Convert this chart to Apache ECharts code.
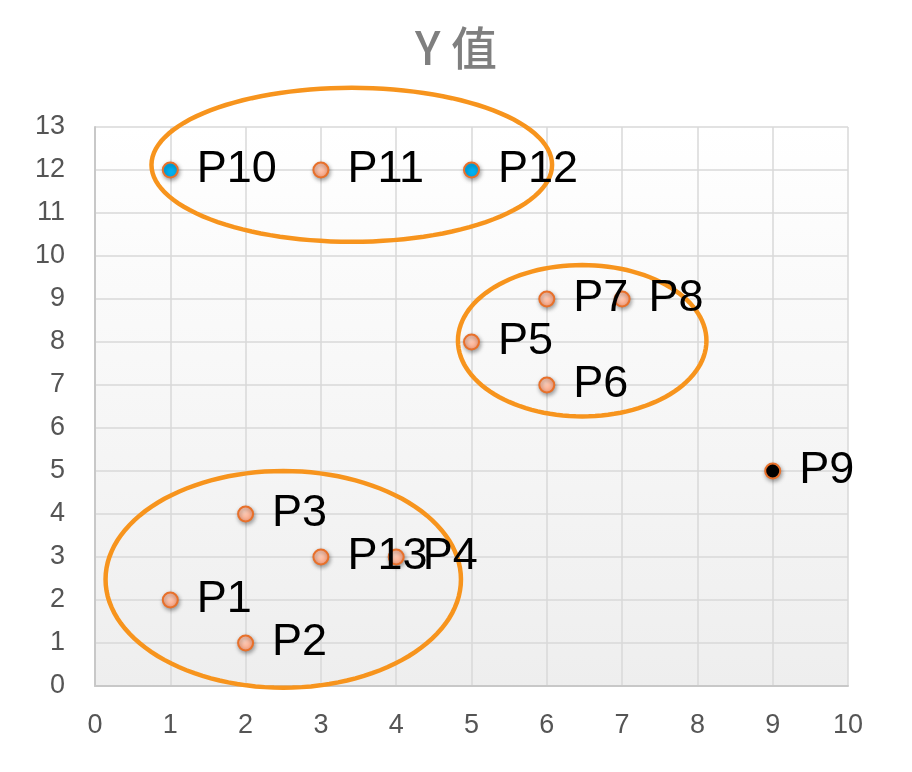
<!DOCTYPE html>
<html>
<head>
<meta charset="utf-8">
<script src="https://cdn.jsdelivr.net/npm/echarts@6/dist/echarts.min.js"></script>
<style>
html,body{margin:0;padding:0;background:#fff;}
#chart{width:912px;height:772px;}
</style>
</head>
<body>
<div id="chart"></div>
<script>
// ---- data ----
const pointNames = ['P1','P2','P3','P4','P5','P6','P7','P8','P9','P10','P11','P12','P13'];
const pointX     = [1, 2, 2, 4, 5, 6, 6, 7, 9, 1, 3, 5, 3];
const pointY     = [2, 1, 4, 3, 8, 7, 9, 9, 5, 12, 12, 12, 3];
// annotation ellipses (centre x, centre y, radius x, radius y) in data units
const ellipseCX = [3.41, 6.47, 2.50];
const ellipseCY = [12.12, 8.03, 2.48];
const ellipseRX = [2.66, 1.65, 2.36];
const ellipseRY = [1.79, 1.76, 2.52];
const xTicks = [0,1,2,3,4,5,6,7,8,9,10];
const yTicks = [0,1,2,3,4,5,6,7,8,9,10,11,12,13];
const titleText = 'Y 值';

const specialFill = {P9:'#000000', P10:'#00b0f0', P12:'#00b0f0'};
const defaultFill = new echarts.graphic.RadialGradient(0.4,0.35,0.7,[
  {offset:0,color:'#ffd4c2'},{offset:1,color:'#f99c78'}]);

const scatterData = pointNames.map((n,i)=>({
  value:[pointX[i], pointY[i]],
  name:n,
  itemStyle:{color: specialFill[n] || defaultFill}
}));
const ellipseData = ellipseCX.map((c,i)=>[c, ellipseCY[i], ellipseRX[i], ellipseRY[i]]);

const chart = echarts.init(document.getElementById('chart'), null, {renderer:'canvas'});
chart.setOption({
  backgroundColor:'#ffffff',
  animation:false,
  title:{
    text:titleText, left:'center', top:20,
    textStyle:{fontFamily:'"Noto Sans CJK SC","Liberation Sans",sans-serif', fontSize:46, fontWeight:500, color:'#7f7f7f'}
  },
  grid:{
    left:95, right:64, top:127, bottom:86,
    show:true, borderWidth:0,
    backgroundColor:new echarts.graphic.LinearGradient(0,0,0,1,[
      {offset:0,color:'#ffffff'},{offset:1,color:'#eeeeee'}])
  },
  xAxis:{
    type:'value', min:xTicks[0], max:xTicks[xTicks.length-1], interval:1,
    axisLine:{show:true, lineStyle:{color:'#c8c8c8', width:2}},
    axisTick:{show:false},
    splitLine:{show:true, lineStyle:{color:'#d9d9d9', width:1.5}},
    axisLabel:{color:'#555555', fontSize:27, margin:26, fontFamily:'"Liberation Sans",Arial,sans-serif'}
  },
  yAxis:{
    type:'value', min:yTicks[0], max:yTicks[yTicks.length-1], interval:1,
    axisLine:{show:true, lineStyle:{color:'#c8c8c8', width:2}},
    axisTick:{show:false},
    splitLine:{show:true, lineStyle:{color:'#d9d9d9', width:1.5}},
    axisLabel:{color:'#555555', fontSize:27, margin:30, fontFamily:'"Liberation Sans",Arial,sans-serif'}
  },
  series:[
    {
      type:'custom',
      clip:false,
      z:3,
      silent:true,
      data:ellipseData,
      renderItem:function(params, api){
        const c = api.coord([api.value(0), api.value(1)]);
        const s = api.size([api.value(2), api.value(3)]);
        const pts = [];
        for(let k=0;k<120;k++){
          const t = k/120*Math.PI*2;
          pts.push([c[0]+s[0]*Math.cos(t), c[1]+s[1]*Math.sin(t)]);
        }
        return {type:'polygon', shape:{points:pts},
          style:{fill:'none', stroke:'#f7941d', lineWidth:4.5}};
      }
    },
    {
      type:'scatter',
      z:4,
      symbol:'circle',
      symbolSize:15,
      data:scatterData,
      itemStyle:{opacity:1, borderColor:'#e8702a', borderWidth:2,
        shadowBlur:4, shadowColor:'rgba(0,0,0,0.35)', shadowOffsetX:1, shadowOffsetY:2},
      label:{
        show:true, position:'right', distance:18,
        formatter:p=>p.name,
        color:'#000000', fontSize:45,
        fontFamily:'"Liberation Sans",Arial,sans-serif'
      }
    }
  ]
});
</script>
</body>
</html>
